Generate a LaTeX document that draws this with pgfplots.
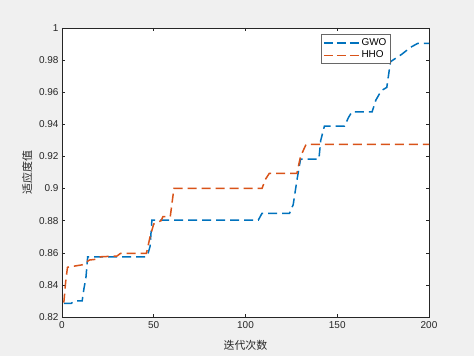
\documentclass[border=0pt]{standalone}
\usepackage{pgfplots}
\pgfplotsset{compat=1.18}
\usepackage{fontspec}
\setmainfont{Liberation Sans}
\newfontfamily\cjk{Noto Sans CJK SC}
\definecolor{bgc}{HTML}{F0F0F0}
\definecolor{axc}{HTML}{262626}
\definecolor{mblue}{HTML}{0072BD}
\definecolor{morange}{HTML}{D95319}
\begin{document}
\begin{tikzpicture}
\fill[bgc] (-62bp,-39bp) rectangle (412bp,317bp);
\useasboundingbox (-62bp,-39bp) rectangle (412bp,317bp);
\begin{axis}[
  at={(0,0)}, anchor=south west,
  scale only axis, width=367bp, height=289bp,
  xmin=0, xmax=200, ymin=0.82, ymax=1,
  xtick={0,50,100,150,200},
  ytick={0.82,0.84,0.86,0.88,0.9,0.92,0.94,0.96,0.98,1},
  yticklabel style={/pgf/number format/fixed,/pgf/number format/precision=2},
  /pgf/number format/assume math mode=true,
  tick align=inside, major tick length=3.5bp,
  axis line style={axc, line width=0.5bp},
  every tick/.style={axc, line width=0.5bp},
  tick label style={font=\fontsize{10}{12}\selectfont, text=axc},
  xticklabel style={yshift=-1bp},
  axis background/.style={fill=white},
  xlabel={\cjk 迭代次数}, ylabel={\cjk 适应度值},
  xlabel style={at={(axis description cs:0.5,-0.0969)}, anchor=center, font=\fontsize{11}{12}\selectfont, text=axc},
  ylabel style={at={(axis description cs:-0.095,0.5)}, anchor=center, font=\fontsize{11}{12}\selectfont, text=axc},
  legend style={at={(0.8956,0.978)}, anchor=north east, draw=axc!70, line width=0.5bp,
    font=\fontsize{10}{12}\selectfont, inner sep=2bp, row sep=0bp, fill=white},
  legend cell align=left,
  legend image code/.code={\draw[#1, line width=1.5bp, dash pattern=on 9bp off 4bp] (0bp,0bp) -- (35bp,0bp);},
  every axis plot/.append style={line width=1.5bp, dash pattern=on 9bp off 5bp},
]
\addplot[mblue] coordinates {
(1,0.8285)(5,0.8285)(7,0.8301)(11,0.8301)(12,0.8380)(13,0.8440)(14,0.8575)(46,0.8575)
(47,0.8600)(48,0.8640)(49,0.8804)(107,0.8804)(109,0.8846)(124,0.8846)(126,0.8900)
(128,0.9050)(130,0.9184)(140,0.9184)(141,0.9300)(143,0.9389)(154,0.9389)(156,0.9440)
(158,0.9478)(169,0.9478)(171,0.9550)(174,0.9610)(177,0.9630)(179,0.9790)(185,0.9835)
(190,0.9880)(194,0.9905)(200,0.9905)};
\addlegendentry{GWO}
\addplot[morange] coordinates {
(1,0.8290)(2,0.8420)(3,0.8510)(11,0.8525)(13,0.8540)(15,0.8555)(19,0.8560)(21,0.8575)
(30,0.8580)(32,0.8597)(46,0.8597)(48,0.8700)(50,0.8780)(54,0.8800)(55,0.8825)(59,0.8825)
(61,0.9001)(109,0.9001)(111,0.9060)(113,0.9095)(128,0.9095)(130,0.9200)(133,0.9275)
(200,0.9275)};
\addlegendentry{HHO}
\end{axis}
\end{tikzpicture}
\end{document}
